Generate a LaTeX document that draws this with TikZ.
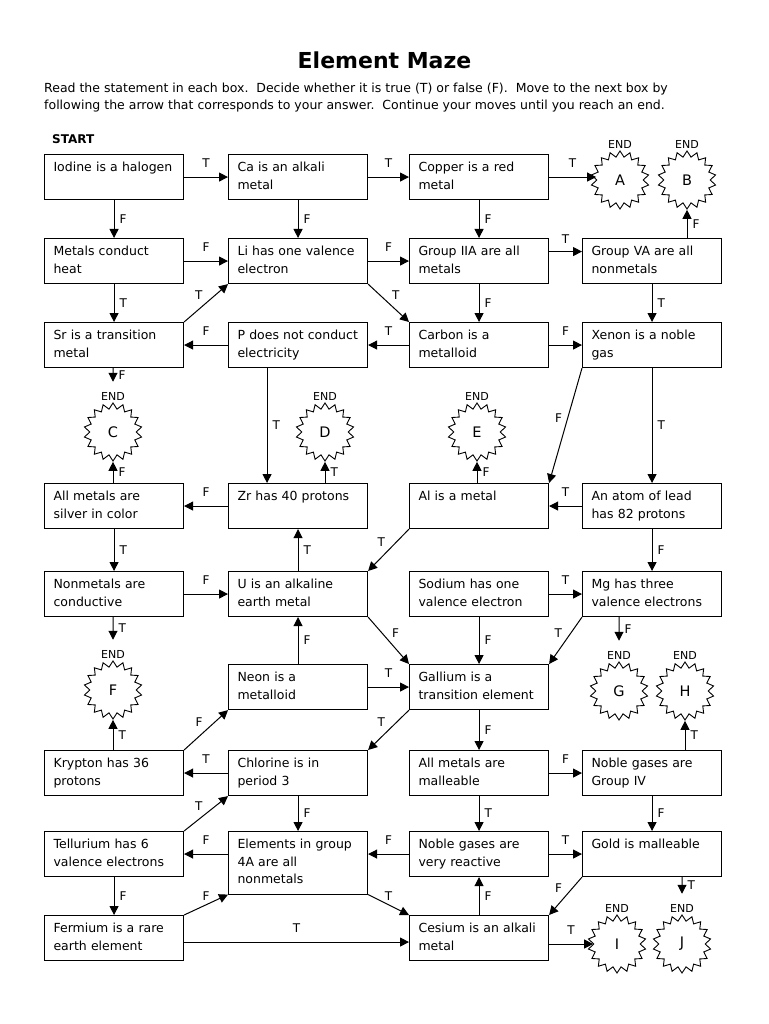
\documentclass[tikz,border=0pt]{standalone}
\usepackage{fontspec}
\setmainfont{DejaVu Sans}
\usepackage{tikz}
\usetikzlibrary{shapes.geometric}
\usetikzlibrary{arrows.meta}

\tikzset{
  stmt/.style={draw, line width=1.1pt, rectangle, anchor=north west, text width=121pt,
    inner xsep=9pt, inner ysep=5pt, align=left, font=\fontsize{12.5}{17.5}\selectfont,
    execute at begin node=\strut, execute at end node=\strut},
  endstar/.style={draw, star, star points=18, star point ratio=1.25, minimum size=58pt,
    inner sep=0pt, line width=0.9pt, font=\fontsize{14.5}{16}\selectfont},
  endtag/.style={inner sep=1pt, font=\fontsize{11}{13}\selectfont},
  go/.style={-{Triangle[length=9pt,width=9pt]}, line width=1pt},
  ans/.style={inner sep=2pt, font=\fontsize{12}{14}\selectfont}
}

\begin{document}
\begin{tikzpicture}[x=1pt, y=-1pt]
			\fill[white] (0,0) rectangle (768,1024);
			\useasboundingbox (0,0) rectangle (768,1024);
			% Heading
			\node[anchor=base, font=\fontsize{22}{26}\selectfont\bfseries] (title) at (384.5,69) {Element Maze};
			\node[anchor=base west, inner sep=0pt, font=\fontsize{12.5}{17}\selectfont] (intro1) at (44,93) {Read the statement in each box.\ \ Decide whether it is true (T) or false (F).\ \ Move to the next box by};
			\node[anchor=base west, inner sep=0pt, font=\fontsize{12.5}{17}\selectfont] (intro2) at (44,110) {following the arrow that corresponds to your answer.\ \ Continue your moves until you reach an end.};
			\node[anchor=base west, inner sep=0pt, font=\fontsize{12}{14}\selectfont\bfseries] (start) at (52,143.3) {START};
			% Boxes
			\node[stmt] (iod) at (44,154) {Iodine is a halogen\\\mbox{}};
			\node[stmt] (ca) at (228,154) {Ca is an alkali\\metal};
			\node[stmt] (cu) at (409,154) {Copper is a red\\metal};
			\node[stmt] (heat) at (44,238) {Metals conduct\\heat};
			\node[stmt] (li) at (228,238) {Li has one valence\\electron};
			\node[stmt] (iia) at (409,238) {Group IIA are all\\metals};
			\node[stmt] (va) at (582,238) {Group VA are all\\nonmetals};
			\node[stmt] (sr) at (44,322) {Sr is a transition\\metal};
			\node[stmt] (p) at (228,322) {P does not conduct\\electricity};
			\node[stmt] (carb) at (409,322) {Carbon is a\\metalloid};
			\node[stmt] (xe) at (582,322) {Xenon is a noble\\gas};
			\node[stmt] (silv) at (44,483) {All metals are\\silver in color};
			\node[stmt] (zr) at (228,483) {Zr has 40 protons\\\mbox{}};
			\node[stmt] (al) at (409,483) {Al is a metal\\\mbox{}};
			\node[stmt] (pb) at (582,483) {An atom of lead\\has 82 protons};
			\node[stmt] (nonm) at (44,571) {Nonmetals are\\conductive};
			\node[stmt] (u) at (228,571) {U is an alkaline\\earth metal};
			\node[stmt] (na) at (409,571) {Sodium has one\\valence electron};
			\node[stmt] (mg) at (582,571) {Mg has three\\valence electrons};
			\node[stmt] (neon) at (228,664) {Neon is a\\metalloid};
			\node[stmt] (ga) at (409,664) {Gallium is a\\transition element};
			\node[stmt] (kr) at (44,750) {Krypton has 36\\protons};
			\node[stmt] (cl) at (228,750) {Chlorine is in\\period 3};
			\node[stmt] (mall) at (409,750) {All metals are\\malleable};
			\node[stmt] (ng4) at (582,750) {Noble gases are\\Group IV};
			\node[stmt] (te) at (44,831) {Tellurium has 6\\valence electrons};
			\node[stmt] (g4a) at (228,831) {Elements in group\\4A are all\\nonmetals};
			\node[stmt] (ngr) at (409,831) {Noble gases are\\very reactive};
			\node[stmt] (au) at (582,831) {Gold is malleable\\\mbox{}};
			\node[stmt] (fm) at (44,915) {Fermium is a rare\\earth element};
			\node[stmt] (cs) at (409,915) {Cesium is an alkali\\metal};
			% Ends
			\node[endstar, label={[endtag,name=Atag]above:END}] (A) at (620,180) {A};
			\node[endstar, label={[endtag,name=Btag]above:END}] (B) at (687,180) {B};
			\node[endstar, label={[endtag,name=Ctag]above:END}] (C) at (113,432) {C};
			\node[endstar, label={[endtag,name=Dtag]above:END}] (D) at (325,432) {D};
			\node[endstar, label={[endtag,name=Etag]above:END}] (E) at (477,432) {E};
			\node[endstar, label={[endtag,name=Ftag]above:END}] (F) at (113,690) {F};
			\node[endstar, label={[endtag,name=Gtag]above:END}] (G) at (619,691) {G};
			\node[endstar, label={[endtag,name=Htag]above:END}] (H) at (685,691) {H};
			\node[endstar, label={[endtag,name=Itag]above:END}] (I) at (617,944) {I};
			\node[endstar, label={[endtag,name=Jtag]above:END}] (J) at (682,944) {J};
			% Moves, first rows
			\draw[go] (iod) -- (ca) node[ans, midway, above=7pt] {T};
			\draw[go] (ca) -- (cu) node[ans, midway, above=7pt] {T};
			\draw[go] (cu.east) -- (cu.east -| A.west) node[ans, midway, above=7pt] {T};
			\draw[go] (iod) -- (heat) node[ans, midway, right=3pt] {F};
			\draw[go] (ca) -- (li) node[ans, midway, right=3pt] {F};
			\draw[go] (cu) -- (iia) node[ans, midway, right=3pt] {F};
			\draw[go] (heat) -- (li) node[ans, midway, above=7pt] {F};
			\draw[go] (li) -- (iia) node[ans, midway, above=7pt] {F};
			\draw[go] ([yshift=9.5pt]iia.east) -- ([yshift=9.5pt]va.west) node[ans, midway, above=6pt] {T};
			\draw[go] (va.north -| B.south) -- (B.south) node[ans, midway, right=3pt] {F};
			\draw[go] (heat) -- (sr) node[ans, midway, right=3pt] {T};
			\draw[go] (sr.north east) -- (li.south west) node[ans, midway, above left=1pt] {T};
			\draw[go] (li.south east) -- (carb.north west) node[ans, midway, above right=1pt] {T};
			\draw[go] (iia) -- (carb) node[ans, midway, right=3pt] {F};
			\draw[go] (va) -- (xe) node[ans, midway, right=3pt] {T};
			\draw[go] (carb) -- (p) node[ans, midway, above=7pt] {T};
			\draw[go] (carb) -- (xe) node[ans, midway, above=7pt] {F};
			\draw[go] (p) -- (sr) node[ans, midway, above=7pt] {F};
			\draw[go] (sr.south -| C.north) -- ([yshift=10pt]Ctag.north) node[ans, midway, right=3pt] {F};
			\draw[go] ([xshift=-31pt]p.south) -- ([xshift=-31pt]zr.north) node[ans, midway, right=3pt] {T};
			\draw[go] (xe.south west) -- (al.north east) node[ans, midway, above left=1pt] {F};
			\draw[go] (xe) -- (pb) node[ans, midway, right=3pt] {T};
			% Middle rows
			\draw[go] (zr.north -| D.south) -- (D.south) node[ans, midway, right=3pt] {T};
			\draw[go] (zr) -- (silv) node[ans, midway, above=7pt] {F};
			\draw[go] (silv.north -| C.south) -- (C.south) node[ans, midway, right=3pt] {F};
			\draw[go] (pb) -- (al) node[ans, midway, above=7pt] {T};
			\draw[go] (al.north -| E.south) -- (E.south) node[ans, midway, right=3pt] {F};
			\draw[go] (silv) -- (nonm) node[ans, midway, right=3pt] {T};
			\draw[go] (al.south west) -- (u.north east) node[ans, midway, above left=1pt] {T};
			\draw[go] (pb) -- (mg) node[ans, midway, right=3pt] {F};
			\draw[go] (nonm) -- (u) node[ans, midway, above=7pt] {F};
			\draw[go] (u) -- (zr) node[ans, midway, right=3pt] {T};
			\draw[go] (na) -- (mg) node[ans, midway, above=7pt] {T};
			\draw[go] (na) -- (ga) node[ans, midway, right=3pt] {F};
			\draw[go] (mg.south west) -- (ga.north east) node[ans, midway, above left=1pt] {T};
			\draw[go] (u.south east) -- (ga.north west) node[ans, midway, above right=1pt] {F};
			\draw[go] (mg.south -| G.north) -- ([yshift=10pt]Gtag.north) node[ans, midway, right=3pt] {F};
			\draw[go] (nonm.south -| F.north) -- ([yshift=10pt]Ftag.north) node[ans, midway, right=3pt] {T};
			\draw[go] (neon) -- (u) node[ans, midway, right=3pt] {F};
			\draw[go] (neon) -- (ga) node[ans, midway, above=7pt] {T};
			\draw[go] (ga.south west) -- (cl.north east) node[ans, midway, above left=1pt] {T};
			\draw[go] (ga) -- (mall) node[ans, midway, right=3pt] {F};
			\draw[go] (kr.north -| F.south) -- (F.south) node[ans, midway, right=3pt] {T};
			\draw[go] (kr.north east) -- (neon.south west) node[ans, midway, above left=1pt] {F};
			% Last rows
			\draw[go] (cl) -- (kr) node[ans, midway, above=7pt] {T};
			\draw[go] (cl) -- (g4a) node[ans, midway, right=3pt] {F};
			\draw[go] (mall) -- (ng4) node[ans, midway, above=7pt] {F};
			\draw[go] (ng4.north -| H.south) -- (H.south) node[ans, midway, right=3pt] {T};
			\draw[go] (mall) -- (ngr) node[ans, midway, right=3pt] {T};
			\draw[go] (ng4) -- (au) node[ans, midway, right=3pt] {F};
			\draw[go] (te.north east) -- (cl.south west) node[ans, midway, above left=1pt] {T};
			\draw[go] (g4a.west |- te.east) -- (te.east) node[ans, midway, above=7pt] {F};
			\draw[go] (ngr.west) -- (ngr.west -| g4a.east) node[ans, midway, above=7pt] {F};
			\draw[go] (ngr) -- (au) node[ans, midway, above=7pt] {T};
			\draw[go] (te) -- (fm) node[ans, midway, right=3pt] {F};
			\draw[go] (fm.north east) -- (g4a.south west) node[ans, midway, above=2pt] {F};
			\draw[go] (g4a.south east) -- (cs.north west) node[ans, midway, above=2pt] {T};
			\draw[go] (cs) -- (ngr) node[ans, midway, right=3pt] {F};
			\draw[go] (au.south west) -- (cs.north east) node[ans, midway, above left=1pt] {F};
			\draw[go] (au.south -| J.north) -- ([yshift=10pt]Jtag.north) node[ans, midway, right=3pt] {T};
			\draw[go] ([yshift=-4pt]fm.east) -- ([yshift=-4pt]cs.west) node[ans, midway, above=7pt] {T};
			\draw[go] (cs.east |- I.west) -- (I.west) node[ans, midway, above=7pt] {T};
		\end{tikzpicture}
\end{document}
